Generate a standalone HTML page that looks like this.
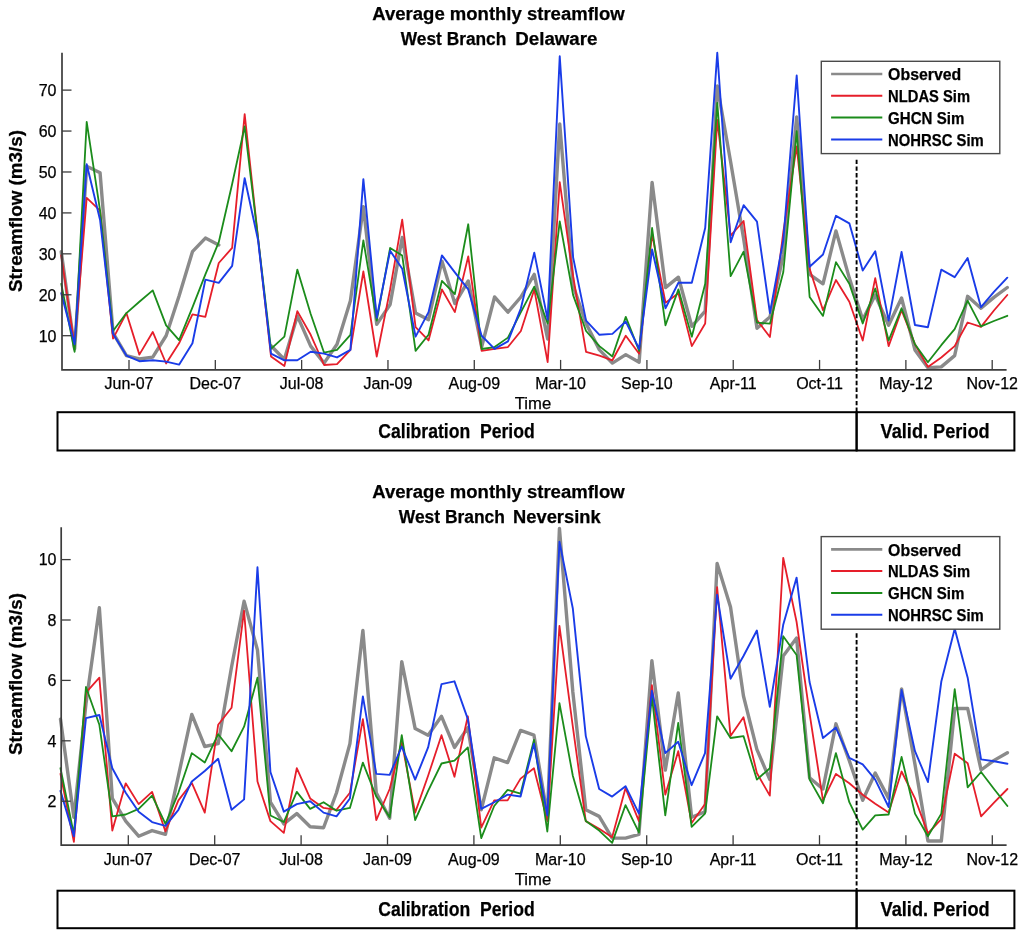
<!DOCTYPE html>
<html><head><meta charset="utf-8"><title>Average monthly streamflow</title>
<style>html,body{margin:0;padding:0;background:#fff}body{width:1024px;height:937px;overflow:hidden}svg text{font-family:"Liberation Sans", Arial, sans-serif;fill:#000;stroke:#000;stroke-width:0.25px}</style>
</head><body>
<svg width="1024" height="937" viewBox="0 0 1024 937" style="display:block;filter:blur(0.35px)">
<text x="498.5" y="20" font-size="17.5" font-weight="bold" text-anchor="middle" textLength="252.4" lengthAdjust="spacingAndGlyphs">Average monthly streamflow</text>
<text x="400.8" y="45.2" font-size="17.5" font-weight="bold" text-anchor="start" textLength="105.5" lengthAdjust="spacingAndGlyphs">West Branch</text>
<text x="515.3" y="45.2" font-size="17.5" font-weight="bold" text-anchor="start" textLength="82.1" lengthAdjust="spacingAndGlyphs">Delaware</text>
<text transform="translate(22,211) rotate(-90)" font-size="18" font-weight="bold" text-anchor="middle" textLength="162" lengthAdjust="spacingAndGlyphs">Streamflow (m3/s)</text>
<polyline points="61.24,251.67 74.62,348.95 86.70,166.17 100.08,172.78 113.03,332.89 126.41,355.56 139.36,358.96 152.74,357.07 166.12,335.73 179.07,296.06 192.45,251.67 205.39,238.07 218.77,245.06" fill="none" stroke="#8a8a8a" stroke-width="3.4" stroke-linejoin="round" stroke-linecap="round"/>
<polyline points="271.00,345.70 284.38,359.34 297.32,315.89 310.70,346.11 324.08,363.11 337.03,344.23 350.41,300.78 363.36,206.70 376.74,324.39 390.12,304.56 402.20,237.50 415.58,313.06 428.53,319.67 441.91,261.11 454.86,303.61 468.24,280.95 481.62,347.00 494.57,297.00 507.94,312.11 520.89,297.00 534.27,274.34 547.65,339.00 559.74,124.00 573.12,285.67 586.06,323.45 599.44,349.89 612.39,363.11 625.77,354.61 639.15,362.17 652.10,182.40 665.48,287.60 678.43,277.20 691.81,326.30 705.19,311.20 717.27,85.90 730.65,162.00 743.60,238.40 756.98,328.20 769.93,317.00 783.31,255.00 796.69,117.00 809.63,274.30 823.01,283.80 835.96,230.90 849.34,278.10 862.72,319.70 875.24,295.10 888.62,325.30 901.56,298.00 914.94,349.90 927.89,367.80 941.27,366.90 954.65,355.60 967.60,296.30 980.98,308.30 993.93,297.40 1007.31,287.50" fill="none" stroke="#8a8a8a" stroke-width="3.4" stroke-linejoin="round" stroke-linecap="round"/>
<polyline points="61.24,255.45 74.62,346.11 86.70,197.90 100.08,210.56 113.03,338.56 126.41,313.06 139.36,354.61 152.74,331.95 166.12,363.49 179.07,343.28 192.45,314.38 205.39,316.84 218.77,263.00 232.15,247.89 244.67,114.20 258.05,238.00 271.00,356.50 284.38,365.95 297.32,311.17 310.70,334.78 324.08,365.00 337.03,364.06 350.41,349.89 363.36,271.50 376.74,356.50 390.12,289.45 402.20,219.56 415.58,327.23 428.53,340.45 441.91,289.45 454.86,312.11 468.24,256.39 481.62,350.84 494.57,348.95 507.94,347.06 520.89,331.00 534.27,289.45 547.65,362.17 559.74,182.20 573.12,276.22 586.06,351.78 599.44,355.56 612.39,360.28 625.77,335.73 639.15,353.67 652.10,234.00 665.48,302.70 678.43,293.20 691.81,346.10 705.19,323.50 717.27,119.90 730.65,235.60 743.60,221.00 756.98,320.00 769.93,337.00 783.31,232.00 796.69,146.30 809.63,268.70 823.01,310.20 835.96,280.00 849.34,301.70 862.72,340.50 875.24,278.10 888.62,346.10 901.56,310.20 914.94,344.20 927.89,366.90 941.27,357.50 954.65,346.10 967.60,322.50 980.98,326.90 993.93,310.50 1007.31,295.00" fill="none" stroke="#e61e2a" stroke-width="1.8" stroke-linejoin="round" stroke-linecap="round"/>
<polyline points="61.24,283.78 74.62,351.78 86.70,121.78 100.08,210.56 113.03,331.00 126.41,313.06 139.36,301.72 152.74,290.39 166.12,325.34 179.07,340.07 192.45,307.39 205.39,274.34 218.77,242.22 232.15,184.00 244.67,126.50 258.05,238.00 271.00,348.95 284.38,336.67 297.32,269.61 310.70,314.00 324.08,352.73 337.03,349.89 350.41,334.78 363.36,240.33 376.74,320.61 390.12,247.89 402.20,255.45 415.58,350.84 428.53,334.78 441.91,280.95 454.86,294.17 468.24,224.28 481.62,349.00 494.57,347.06 507.94,337.61 520.89,312.11 534.27,286.61 547.65,323.45 559.74,221.40 573.12,295.11 586.06,331.00 599.44,346.11 612.39,356.50 625.77,316.84 639.15,350.84 652.10,228.00 665.48,325.30 678.43,289.40 691.81,336.70 705.19,283.80 717.27,102.90 730.65,276.20 743.60,251.70 756.98,322.70 769.93,323.70 783.31,272.00 796.69,131.20 809.63,297.00 823.01,315.90 835.96,262.10 849.34,283.80 862.72,323.50 875.24,288.50 888.62,340.50 901.56,308.30 914.94,344.20 927.89,362.20 941.27,345.20 954.65,329.10 967.60,300.60 980.98,326.40 993.93,321.00 1007.31,315.80" fill="none" stroke="#1b8c1b" stroke-width="1.8" stroke-linejoin="round" stroke-linecap="round"/>
<polyline points="61.24,293.22 74.62,344.23 86.70,164.28 100.08,220.00 113.03,333.84 126.41,355.56 139.36,361.23 152.74,360.28 166.12,361.60 179.07,364.63 192.45,343.28 205.39,279.62 218.77,282.84 232.15,265.83 244.67,178.20 258.05,240.00 271.00,353.67 284.38,360.28 297.32,360.28 310.70,351.78 324.08,353.67 337.03,357.45 350.41,349.89 363.36,179.10 376.74,317.78 390.12,250.72 402.20,268.67 415.58,336.67 428.53,312.11 441.91,255.45 454.86,272.45 468.24,289.45 481.62,335.73 494.57,348.95 507.94,341.39 520.89,308.34 534.27,252.61 547.65,319.67 559.74,56.30 573.12,257.33 586.06,320.61 599.44,334.78 612.39,333.84 625.77,321.56 639.15,348.95 652.10,249.50 665.48,308.30 678.43,282.80 691.81,282.80 705.19,228.10 717.27,52.80 730.65,242.20 743.60,205.20 756.98,221.70 769.93,313.00 783.31,240.00 796.69,75.50 809.63,266.80 823.01,254.50 835.96,215.80 849.34,223.30 862.72,270.60 875.24,251.30 888.62,320.60 901.56,252.00 914.94,325.00 927.89,327.20 941.27,269.60 954.65,277.20 967.60,258.00 980.98,307.20 993.93,291.90 1007.31,277.70" fill="none" stroke="#1a3ce8" stroke-width="1.9" stroke-linejoin="round" stroke-linecap="round"/>
<path d="M62.0,52.8 V369.9 H1006.6" fill="none" stroke="#3c3c3c" stroke-width="1.7"/>
<line x1="62.0" y1="335.7" x2="71.5" y2="335.7" stroke="#3c3c3c" stroke-width="1.3"/>
<text x="56.5" y="341.5" font-size="16" font-weight="normal" text-anchor="end">10</text>
<line x1="62.0" y1="294.77" x2="71.5" y2="294.77" stroke="#3c3c3c" stroke-width="1.3"/>
<text x="56.5" y="300.57" font-size="16" font-weight="normal" text-anchor="end">20</text>
<line x1="62.0" y1="253.84" x2="71.5" y2="253.84" stroke="#3c3c3c" stroke-width="1.3"/>
<text x="56.5" y="259.64" font-size="16" font-weight="normal" text-anchor="end">30</text>
<line x1="62.0" y1="212.91" x2="71.5" y2="212.91" stroke="#3c3c3c" stroke-width="1.3"/>
<text x="56.5" y="218.71" font-size="16" font-weight="normal" text-anchor="end">40</text>
<line x1="62.0" y1="171.98" x2="71.5" y2="171.98" stroke="#3c3c3c" stroke-width="1.3"/>
<text x="56.5" y="177.78" font-size="16" font-weight="normal" text-anchor="end">50</text>
<line x1="62.0" y1="131.05" x2="71.5" y2="131.05" stroke="#3c3c3c" stroke-width="1.3"/>
<text x="56.5" y="136.85000000000002" font-size="16" font-weight="normal" text-anchor="end">60</text>
<line x1="62.0" y1="90.12" x2="71.5" y2="90.12" stroke="#3c3c3c" stroke-width="1.3"/>
<text x="56.5" y="95.92" font-size="16" font-weight="normal" text-anchor="end">70</text>
<line x1="129.00" y1="369.9" x2="129.00" y2="359.9" stroke="#3c3c3c" stroke-width="1.3"/>
<text x="129.00" y="389" font-size="16" font-weight="normal" text-anchor="middle">Jun-07</text>
<line x1="215.32" y1="369.9" x2="215.32" y2="359.9" stroke="#3c3c3c" stroke-width="1.3"/>
<text x="215.32" y="389" font-size="16" font-weight="normal" text-anchor="middle">Dec-07</text>
<line x1="301.64" y1="369.9" x2="301.64" y2="359.9" stroke="#3c3c3c" stroke-width="1.3"/>
<text x="301.64" y="389" font-size="16" font-weight="normal" text-anchor="middle">Jul-08</text>
<line x1="387.96" y1="369.9" x2="387.96" y2="359.9" stroke="#3c3c3c" stroke-width="1.3"/>
<text x="387.96" y="389" font-size="16" font-weight="normal" text-anchor="middle">Jan-09</text>
<line x1="474.28" y1="369.9" x2="474.28" y2="359.9" stroke="#3c3c3c" stroke-width="1.3"/>
<text x="474.28" y="389" font-size="16" font-weight="normal" text-anchor="middle">Aug-09</text>
<line x1="560.60" y1="369.9" x2="560.60" y2="359.9" stroke="#3c3c3c" stroke-width="1.3"/>
<text x="560.60" y="389" font-size="16" font-weight="normal" text-anchor="middle">Mar-10</text>
<line x1="646.92" y1="369.9" x2="646.92" y2="359.9" stroke="#3c3c3c" stroke-width="1.3"/>
<text x="646.92" y="389" font-size="16" font-weight="normal" text-anchor="middle">Sep-10</text>
<line x1="733.24" y1="369.9" x2="733.24" y2="359.9" stroke="#3c3c3c" stroke-width="1.3"/>
<text x="733.24" y="389" font-size="16" font-weight="normal" text-anchor="middle">Apr-11</text>
<line x1="819.56" y1="369.9" x2="819.56" y2="359.9" stroke="#3c3c3c" stroke-width="1.3"/>
<text x="819.56" y="389" font-size="16" font-weight="normal" text-anchor="middle">Oct-11</text>
<line x1="905.88" y1="369.9" x2="905.88" y2="359.9" stroke="#3c3c3c" stroke-width="1.3"/>
<text x="905.88" y="389" font-size="16" font-weight="normal" text-anchor="middle">May-12</text>
<line x1="992.20" y1="369.9" x2="992.20" y2="359.9" stroke="#3c3c3c" stroke-width="1.3"/>
<text x="992.20" y="389" font-size="16" font-weight="normal" text-anchor="middle">Nov-12</text>
<text x="533" y="409.4" font-size="16.5" font-weight="normal" text-anchor="middle" textLength="36.5" lengthAdjust="spacingAndGlyphs">Time</text>
<line x1="856.6" y1="159.7" x2="856.6" y2="412.2" stroke="#000" stroke-width="1.9" stroke-dasharray="4.4,2.3"/>
<rect x="57.5" y="412.2" width="799.1" height="38.3" fill="none" stroke="#000" stroke-width="2"/>
<rect x="856.6" y="412.2" width="157.8" height="38.3" fill="none" stroke="#000" stroke-width="2"/>
<text x="456.5" y="438.0" font-size="19.5" font-weight="bold" text-anchor="middle" textLength="156.4" lengthAdjust="spacingAndGlyphs" xml:space="preserve">Calibration  Period</text>
<text x="935.1" y="438.0" font-size="19.5" font-weight="bold" text-anchor="middle" textLength="109" lengthAdjust="spacingAndGlyphs">Valid. Period</text>
<rect x="821.3" y="61.3" width="178.5" height="92.3" fill="#fff" stroke="#4a4a4a" stroke-width="1.4"/>
<line x1="831.1" y1="74.0" x2="882.3" y2="74.0" stroke="#8a8a8a" stroke-width="2.7"/>
<text x="888.1" y="80.3" font-size="16.5" font-weight="bold" text-anchor="start" textLength="73.2" lengthAdjust="spacingAndGlyphs">Observed</text>
<line x1="831.1" y1="95.8" x2="882.3" y2="95.8" stroke="#e61e2a" stroke-width="2.0"/>
<text x="888.1" y="102.1" font-size="16.5" font-weight="bold" text-anchor="start" textLength="82.0" lengthAdjust="spacingAndGlyphs">NLDAS Sim</text>
<line x1="831.1" y1="117.6" x2="882.3" y2="117.6" stroke="#1b8c1b" stroke-width="2.0"/>
<text x="888.1" y="123.9" font-size="16.5" font-weight="bold" text-anchor="start" textLength="76.2" lengthAdjust="spacingAndGlyphs">GHCN Sim</text>
<line x1="831.1" y1="139.4" x2="882.3" y2="139.4" stroke="#1a3ce8" stroke-width="2.0"/>
<text x="888.1" y="145.7" font-size="16.5" font-weight="bold" text-anchor="start" textLength="95.7" lengthAdjust="spacingAndGlyphs">NOHRSC Sim</text>
<text x="498.5" y="498.2" font-size="17.5" font-weight="bold" text-anchor="middle" textLength="252.4" lengthAdjust="spacingAndGlyphs">Average monthly streamflow</text>
<text x="398.8" y="522.5" font-size="17.5" font-weight="bold" text-anchor="start" textLength="106.1" lengthAdjust="spacingAndGlyphs">West Branch</text>
<text x="513.1" y="522.5" font-size="17.5" font-weight="bold" text-anchor="start" textLength="87.5" lengthAdjust="spacingAndGlyphs">Neversink</text>
<text transform="translate(22,674) rotate(-90)" font-size="18" font-weight="bold" text-anchor="middle" textLength="162" lengthAdjust="spacingAndGlyphs">Streamflow (m3/s)</text>
<polyline points="60.48,719.11 73.87,817.34 85.96,703.70 99.36,607.80 112.32,798.45 125.71,821.11 138.67,836.23 152.06,830.56 165.45,834.34 178.41,775.78 191.80,714.39 204.76,746.50 218.16,743.67 231.55,667.00 244.08,601.20 257.47,650.00 270.43,802.23 283.82,823.95 296.78,813.56 310.17,826.78 323.56,827.73 336.52,792.78 349.92,743.67 362.88,630.50 376.27,792.78 389.66,818.28 401.76,661.70 415.15,728.56 428.11,735.17 441.50,716.28 454.46,747.45 467.85,727.61 481.24,809.78 494.20,757.84 507.60,762.56 520.56,730.45 533.95,735.17 547.34,815.45 559.44,528.50 572.83,692.00 585.79,809.78 599.18,816.39 612.14,838.11 625.53,838.11 638.92,834.34 651.88,660.70 665.28,770.10 678.24,693.00 691.63,817.30 705.02,811.70 717.12,563.40 730.51,606.90 743.47,696.00 756.86,749.30 769.82,779.60 783.21,656.00 796.60,638.00 809.56,777.70 822.96,789.00 835.92,723.80 849.31,760.70 862.70,800.30 875.23,773.00 888.62,798.40 901.58,688.90 914.97,764.40 927.93,841.00 941.32,841.00 954.72,708.50 967.68,708.50 981.07,770.00 994.03,760.40 1007.42,752.70" fill="none" stroke="#8a8a8a" stroke-width="3.4" stroke-linejoin="round" stroke-linecap="round"/>
<polyline points="60.48,773.89 73.87,841.89 85.96,692.67 99.36,677.70 112.32,830.56 125.71,783.34 138.67,804.11 152.06,791.84 165.45,831.50 178.41,800.34 191.80,782.96 204.76,812.61 218.16,724.78 231.55,707.78 244.08,610.70 257.47,781.45 270.43,821.11 283.82,832.83 296.78,768.22 310.17,798.45 323.56,807.89 336.52,809.78 349.92,792.78 362.88,719.11 376.27,820.17 389.66,789.00 401.76,741.78 415.15,812.61 428.11,775.78 441.50,735.17 454.46,776.72 467.85,716.28 481.24,827.73 494.20,800.34 507.60,800.34 520.56,778.61 533.95,768.22 547.34,821.11 559.44,625.80 572.83,726.67 585.79,821.11 599.18,828.67 612.14,837.17 625.53,788.06 638.92,821.11 651.88,685.11 665.28,794.70 678.24,751.20 691.63,823.00 705.02,804.10 717.12,587.10 730.51,736.10 743.47,717.20 756.86,773.00 769.82,795.60 783.21,557.80 796.60,622.00 809.56,713.40 822.96,800.30 835.92,773.90 849.31,783.30 862.70,794.70 875.23,803.70 888.62,812.60 901.58,771.50 914.97,798.40 927.93,833.40 941.32,819.20 954.72,753.70 967.68,763.30 981.07,816.40 994.03,802.70 1007.42,789.00" fill="none" stroke="#e61e2a" stroke-width="1.8" stroke-linejoin="round" stroke-linecap="round"/>
<polyline points="60.48,768.22 73.87,834.34 85.96,687.00 99.36,724.78 112.32,816.39 125.71,814.50 138.67,808.84 152.06,795.61 165.45,823.95 178.41,792.78 191.80,753.11 204.76,762.56 218.16,734.22 231.55,751.22 244.08,726.67 257.47,677.70 270.43,815.45 283.82,822.06 296.78,791.84 310.17,808.84 323.56,802.23 336.52,810.73 349.92,807.89 362.88,762.56 376.27,796.56 389.66,817.34 401.76,735.17 415.15,820.17 428.11,790.89 441.50,763.50 454.46,760.67 467.85,747.45 481.24,838.11 494.20,806.00 507.60,789.95 520.56,793.72 533.95,739.89 547.34,831.50 559.44,703.06 572.83,775.78 585.79,821.11 599.18,830.56 612.14,842.84 625.53,805.06 638.92,832.45 651.88,696.45 665.28,815.40 678.24,722.90 691.63,826.80 705.02,813.60 717.12,716.30 730.51,738.00 743.47,736.10 756.86,779.60 769.82,768.20 783.21,636.20 796.60,655.10 809.56,779.60 822.96,803.20 835.92,753.10 849.31,802.20 862.70,829.60 875.23,815.40 888.62,814.50 901.58,756.90 914.97,813.60 927.93,836.20 941.32,813.60 954.72,689.20 967.68,787.30 981.07,772.00 994.03,789.00 1007.42,806.00" fill="none" stroke="#1b8c1b" stroke-width="1.8" stroke-linejoin="round" stroke-linecap="round"/>
<polyline points="60.48,790.89 73.87,836.23 85.96,718.17 99.36,714.96 112.32,768.22 125.71,792.78 138.67,811.67 152.06,822.06 165.45,825.84 178.41,809.78 191.80,781.45 204.76,771.06 218.16,758.78 231.55,809.78 244.08,799.39 257.47,567.20 270.43,772.00 283.82,811.67 296.78,804.11 310.17,801.28 323.56,812.61 336.52,816.39 349.92,798.45 362.88,696.45 376.27,773.89 389.66,774.84 401.76,746.50 415.15,779.56 428.11,747.45 441.50,684.17 454.46,681.33 467.85,719.11 481.24,808.84 494.20,802.23 507.60,794.67 520.56,796.56 533.95,743.67 547.34,815.45 559.44,541.70 572.83,608.50 585.79,736.11 599.18,789.00 612.14,796.56 625.53,786.17 638.92,813.56 651.88,690.78 665.28,753.10 678.24,741.80 691.63,785.20 705.02,753.10 717.12,594.60 730.51,678.70 743.47,656.00 756.86,630.50 769.82,706.80 783.21,624.80 796.60,577.60 809.56,682.00 822.96,738.00 835.92,727.60 849.31,757.80 862.70,764.40 875.23,779.60 888.62,807.00 901.58,690.00 914.97,751.20 927.93,782.00 941.32,681.50 954.72,628.70 967.68,677.70 981.07,759.40 994.03,761.30 1007.42,763.80" fill="none" stroke="#1a3ce8" stroke-width="1.9" stroke-linejoin="round" stroke-linecap="round"/>
<path d="M61.2,527.2 V845.2 H1006.6" fill="none" stroke="#3c3c3c" stroke-width="1.7"/>
<line x1="61.2" y1="801.2" x2="70.7" y2="801.2" stroke="#3c3c3c" stroke-width="1.3"/>
<text x="56.5" y="807.0" font-size="16" font-weight="normal" text-anchor="end">2</text>
<line x1="61.2" y1="740.8" x2="70.7" y2="740.8" stroke="#3c3c3c" stroke-width="1.3"/>
<text x="56.5" y="746.5999999999999" font-size="16" font-weight="normal" text-anchor="end">4</text>
<line x1="61.2" y1="680.4" x2="70.7" y2="680.4" stroke="#3c3c3c" stroke-width="1.3"/>
<text x="56.5" y="686.1999999999999" font-size="16" font-weight="normal" text-anchor="end">6</text>
<line x1="61.2" y1="620.0" x2="70.7" y2="620.0" stroke="#3c3c3c" stroke-width="1.3"/>
<text x="56.5" y="625.8" font-size="16" font-weight="normal" text-anchor="end">8</text>
<line x1="61.2" y1="559.6" x2="70.7" y2="559.6" stroke="#3c3c3c" stroke-width="1.3"/>
<text x="56.5" y="565.4" font-size="16" font-weight="normal" text-anchor="end">10</text>
<line x1="128.30" y1="845.2" x2="128.30" y2="835.2" stroke="#3c3c3c" stroke-width="1.3"/>
<text x="128.30" y="864.5" font-size="16" font-weight="normal" text-anchor="middle">Jun-07</text>
<line x1="214.70" y1="845.2" x2="214.70" y2="835.2" stroke="#3c3c3c" stroke-width="1.3"/>
<text x="214.70" y="864.5" font-size="16" font-weight="normal" text-anchor="middle">Dec-07</text>
<line x1="301.10" y1="845.2" x2="301.10" y2="835.2" stroke="#3c3c3c" stroke-width="1.3"/>
<text x="301.10" y="864.5" font-size="16" font-weight="normal" text-anchor="middle">Jul-08</text>
<line x1="387.50" y1="845.2" x2="387.50" y2="835.2" stroke="#3c3c3c" stroke-width="1.3"/>
<text x="387.50" y="864.5" font-size="16" font-weight="normal" text-anchor="middle">Jan-09</text>
<line x1="473.90" y1="845.2" x2="473.90" y2="835.2" stroke="#3c3c3c" stroke-width="1.3"/>
<text x="473.90" y="864.5" font-size="16" font-weight="normal" text-anchor="middle">Aug-09</text>
<line x1="560.30" y1="845.2" x2="560.30" y2="835.2" stroke="#3c3c3c" stroke-width="1.3"/>
<text x="560.30" y="864.5" font-size="16" font-weight="normal" text-anchor="middle">Mar-10</text>
<line x1="646.70" y1="845.2" x2="646.70" y2="835.2" stroke="#3c3c3c" stroke-width="1.3"/>
<text x="646.70" y="864.5" font-size="16" font-weight="normal" text-anchor="middle">Sep-10</text>
<line x1="733.10" y1="845.2" x2="733.10" y2="835.2" stroke="#3c3c3c" stroke-width="1.3"/>
<text x="733.10" y="864.5" font-size="16" font-weight="normal" text-anchor="middle">Apr-11</text>
<line x1="819.50" y1="845.2" x2="819.50" y2="835.2" stroke="#3c3c3c" stroke-width="1.3"/>
<text x="819.50" y="864.5" font-size="16" font-weight="normal" text-anchor="middle">Oct-11</text>
<line x1="905.90" y1="845.2" x2="905.90" y2="835.2" stroke="#3c3c3c" stroke-width="1.3"/>
<text x="905.90" y="864.5" font-size="16" font-weight="normal" text-anchor="middle">May-12</text>
<line x1="992.30" y1="845.2" x2="992.30" y2="835.2" stroke="#3c3c3c" stroke-width="1.3"/>
<text x="992.30" y="864.5" font-size="16" font-weight="normal" text-anchor="middle">Nov-12</text>
<text x="533" y="885" font-size="16.5" font-weight="normal" text-anchor="middle" textLength="36.5" lengthAdjust="spacingAndGlyphs">Time</text>
<line x1="856.6" y1="633.3" x2="856.6" y2="890.7" stroke="#000" stroke-width="1.9" stroke-dasharray="4.4,2.3"/>
<rect x="57.5" y="890.7" width="799.1" height="37.5" fill="none" stroke="#000" stroke-width="2"/>
<rect x="856.6" y="890.7" width="157.8" height="37.5" fill="none" stroke="#000" stroke-width="2"/>
<text x="456.5" y="916.3" font-size="19.5" font-weight="bold" text-anchor="middle" textLength="156.4" lengthAdjust="spacingAndGlyphs" xml:space="preserve">Calibration  Period</text>
<text x="935.1" y="916.3" font-size="19.5" font-weight="bold" text-anchor="middle" textLength="109" lengthAdjust="spacingAndGlyphs">Valid. Period</text>
<rect x="821.2" y="536.6" width="178.6" height="92.6" fill="#fff" stroke="#4a4a4a" stroke-width="1.4"/>
<line x1="831.1" y1="549.3" x2="882.3" y2="549.3" stroke="#8a8a8a" stroke-width="2.7"/>
<text x="888.1" y="555.6" font-size="16.5" font-weight="bold" text-anchor="start" textLength="73.2" lengthAdjust="spacingAndGlyphs">Observed</text>
<line x1="831.1" y1="571.1" x2="882.3" y2="571.1" stroke="#e61e2a" stroke-width="2.0"/>
<text x="888.1" y="577.4" font-size="16.5" font-weight="bold" text-anchor="start" textLength="82.0" lengthAdjust="spacingAndGlyphs">NLDAS Sim</text>
<line x1="831.1" y1="592.9" x2="882.3" y2="592.9" stroke="#1b8c1b" stroke-width="2.0"/>
<text x="888.1" y="599.2" font-size="16.5" font-weight="bold" text-anchor="start" textLength="76.2" lengthAdjust="spacingAndGlyphs">GHCN Sim</text>
<line x1="831.1" y1="614.7" x2="882.3" y2="614.7" stroke="#1a3ce8" stroke-width="2.0"/>
<text x="888.1" y="621.0" font-size="16.5" font-weight="bold" text-anchor="start" textLength="95.7" lengthAdjust="spacingAndGlyphs">NOHRSC Sim</text>
</svg>
</body></html>
